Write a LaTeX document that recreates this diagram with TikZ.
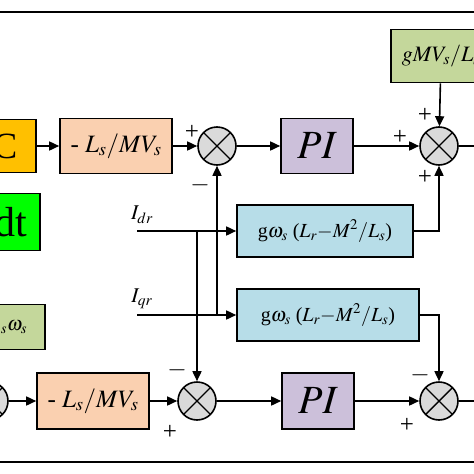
\documentclass[tikz,border=0pt]{standalone}
\usepackage{mathptmx}
\usepackage[no-math]{fontspec}
\setmainfont{Liberation Serif}
\usetikzlibrary{arrows.meta,positioning}
\definecolor{ctrlorange}{HTML}{FFC000}
\definecolor{gainpeach}{HTML}{FAD0B0}
\definecolor{pililac}{HTML}{CCC0DA}
\definecolor{feedolive}{HTML}{C4D79B}
\definecolor{coupleblue}{HTML}{B7DDE8}
\definecolor{intgreen}{HTML}{00FF00}
\definecolor{sumgray}{HTML}{DADADA}
\begin{document}
\begin{tikzpicture}[x=1pt, y=-1pt, line width=1.6pt,
		>={Triangle[length=10pt,width=9pt]},
		block/.style={rectangle, draw, inner sep=0pt},
		sumnode/.style={circle, draw, fill=sumgray, minimum size=38pt, inner sep=0pt,
			path picture={\draw[line width=1.4pt] (path picture bounding box.north west) -- (path picture bounding box.south east)
				(path picture bounding box.north east) -- (path picture bounding box.south west);}},
		sign/.style={font=\fontsize{25}{25}\selectfont, inner sep=0pt},
		inlabel/.style={font=\fontsize{21}{21}\selectfont, inner sep=0pt}]
	\useasboundingbox (0,0) rectangle (474,474);
	% frame lines
	\draw[line width=1.2pt] (0,12) -- (474,12);
	\draw[line width=1.2pt] (0,462) -- (474,462);
	
	% d-axis row
	\node[block, fill=ctrlorange, anchor=east, minimum height=53pt, text width=60pt, align=right, inner xsep=19pt,
		font=\fontsize{37}{37}\selectfont] (ctrl) at (37,146) {C};
	\node[block, fill=gainpeach, minimum width=112pt, minimum height=55pt, font=\fontsize{25}{25}\selectfont] (ls1) at (116,146) {- $L_s/MV_s$};
	\node[sumnode] (s1) at (217,146) {};
	\node[block, fill=pililac, minimum width=72pt, minimum height=55pt, font=\fontsize{40}{40}\selectfont] (pi1) at (317,146) {$PI$};
	\node[sumnode] (s2) at (439,146) {};
	\node[block, fill=feedolive, minimum width=100pt, minimum height=53pt, font=\fontsize{22}{22}\selectfont] (gmv) at (441,56) {$gMV_s/L_s$};
	
	% left blocks
	\node[block, fill=intgreen, anchor=east, minimum height=57pt, text width=60pt, align=right, inner xsep=13pt,
		font=\fontsize{42}{42}\selectfont] (integ) at (41,222) {dt};
	\node[block, fill=feedolive, anchor=east, minimum height=45pt, text width=40pt, align=right, inner xsep=18pt,
		font=\fontsize{20}{20}\selectfont] (wsl) at (46,327) {${}_s\omega_s$};
	
	% coupling terms
	\node[block, fill=coupleblue, minimum width=176pt, minimum height=52pt, font=\fontsize{20}{20}\selectfont] (b1) at (325,231) {g$\omega_s$ ($L_r{-}M^2/L_s$)};
	\node[block, fill=coupleblue, minimum width=182pt, minimum height=52pt, font=\fontsize{20}{20}\selectfont] (b2) at (328,315) {g$\omega_s$ ($L_r{-}M^2/L_s$)};
	\coordinate (idr) at (137,231);
	\coordinate (iqr) at (137,315);
	\node[inlabel] (idrlabel) at (142,215) {$I_{dr}$};
	\node[inlabel] (iqrlabel) at (142,299) {$I_{qr}$};
	
	% q-axis row
	\node[sumnode] (s0) at (-11,401) {};
	\node[block, fill=gainpeach, minimum width=112pt, minimum height=56pt, font=\fontsize{25}{25}\selectfont] (ls2) at (93,401) {- $L_s/MV_s$};
	\node[sumnode] (s3) at (197,401) {};
	\node[block, fill=pililac, minimum width=72pt, minimum height=56pt, font=\fontsize{40}{40}\selectfont] (pi2) at (318,401) {$PI$};
	\node[sumnode] (s4) at (439,401) {};
	\coordinate (out1) at (474,146);
	\coordinate (out2) at (474,401);
	
	% signs
	\node[sign] at ([shift={(-25,-14)}]s1) {+};
	\node[sign] at ([shift={(-17,39)}]s1) {$-$};
	\node[sign] at ([shift={(-14,-31)}]s2) {+};
	\node[sign] at ([shift={(-39,-9)}]s2) {+};
	\node[sign] at ([shift={(-14,31)}]s2) {+};
	\node[sign] at ([shift={(-20,-31)}]s3) {$-$};
	\node[sign] at ([shift={(-27,31)}]s3) {+};
	\node[sign] at ([shift={(-19,-26)}]s4) {$-$};
	\node[sign] at ([shift={(-32,24)}]s4) {+};
	
	% connectors
	\draw[->] (ctrl.east) -- (ls1.west);
	\draw[->] (ls1) -- (s1);
	\draw[->] (s1) -- (pi1);
	\draw[->] (pi1) -- (s2);
	\draw (s2) -- (out1);
	\draw[->] (gmv) -- (s2);
	\draw[->] (b1.east) -| (s2.south);
	\draw[->] (idr) -- (b1.west);
	\draw[->] (iqr) -- (b2.west);
	\draw[->] (s1.south |- iqr) -- (s1.south);
	\draw[->] (s3.north |- idr) -- (s3.north);
	\draw[->] (b2.east) -| (s4.north);
	\draw[->] (s0) -- (ls2);
	\draw[->] (ls2) -- (s3);
	\draw[->] (s3) -- (pi2);
	\draw[->] (pi2) -- (s4);
	\draw (s4) -- (out2);
\end{tikzpicture}
\end{document}
